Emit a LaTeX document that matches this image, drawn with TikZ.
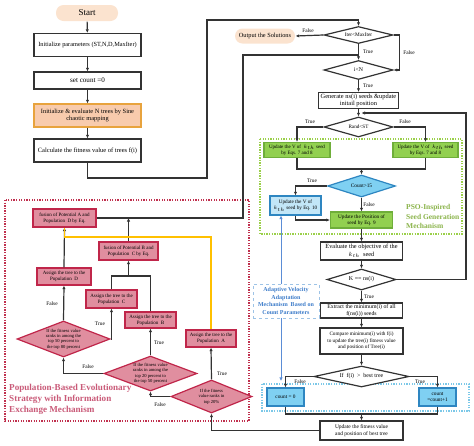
\documentclass[tikz,border=0pt]{standalone}
\usepackage{fontspec}
\setmainfont{Liberation Serif}
\usetikzlibrary{shapes.geometric,arrows.meta}
\definecolor{boxc}{HTML}{333333}
\definecolor{peach}{HTML}{FBE3CF}
\definecolor{orfill}{HTML}{F8CBAD}
\definecolor{orline}{HTML}{E8A33D}
\definecolor{pkfill}{HTML}{E08E9F}
\definecolor{pkline}{HTML}{C0264A}
\definecolor{grfill}{HTML}{92D050}
\definecolor{grline}{HTML}{6FAE3A}
\definecolor{cnfill}{HTML}{7FD0F2}
\definecolor{cnline}{HTML}{2E86C1}
\definecolor{bufill}{HTML}{C2E6F7}
\definecolor{yel}{HTML}{FFC000}
\definecolor{reddot}{HTML}{C0304E}
\definecolor{grdot}{HTML}{9BD04A}
\definecolor{bldot}{HTML}{7CC8E8}
\definecolor{addash}{HTML}{9DC3E6}
\definecolor{adtext}{HTML}{3D7CC9}
\definecolor{bline}{HTML}{5B8DD6}
\definecolor{psotext}{HTML}{8AB34A}
\definecolor{poptext}{HTML}{C95A78}
\newcommand{\fz}[2]{\fontsize{#1pt}{#2pt}\selectfont}
\tikzset{
  sz/.style 2 args={minimum width=#1pt, minimum height=#2pt},
  base/.style={inner sep=0pt, align=center, line width=1.2pt},
  box/.style={base, draw=boxc, fill=white, font=\fz{6.5}{7.6}},
  stad/.style={base, fill=peach, rounded corners=7.5pt},
  orbox/.style={base, draw=orline, fill=orfill, font=\fz{6.4}{7.8}},
  pkbox/.style={base, draw=pkline, fill=pkfill, font=\fz{5.0}{6.0}},
  grbox/.style={base, draw=grline, fill=grfill, font=\fz{5.0}{6.2}},
  cnbox/.style={base, draw=cnline, fill=cnfill, font=\fz{5.3}{6.3}},
  bubox/.style={base, draw=cnline, fill=bufill, font=\fz{5.2}{6.4}},
  dia/.style={diamond, base, draw=boxc, fill=white},
  pkdia/.style={diamond, base, draw=pkline, fill=pkfill},
  cndia/.style={diamond, base, draw=cnline, fill=cnfill},
  dtext/.style={inner sep=0pt, align=center, font=\fz{5.3}{6.2}},
  pktext/.style={inner sep=0pt, align=center, font=\fz{4.6}{5.4}},
  lab/.style={inner sep=0pt, font=\fz{5.4}{6.2}},
  arr/.style={line width=1.2pt, draw=boxc, -{Latex[length=3.6pt,width=3.4pt]}},
  ln/.style={line width=1.2pt, draw=boxc},
  yline/.style={line width=1.2pt, draw=yel},
  bl/.style={line width=1pt, draw=bline, -{Latex[length=3.6pt,width=3.4pt]}},
  dotreg/.style={line width=1.6pt, dash pattern=on 1.3pt off 1.3pt},
}
\begin{document}
\begin{tikzpicture}[x=1pt,y=-1pt]
\useasboundingbox (0,0) rectangle (474,445);

% regions
\draw[dotreg, draw=reddot] (5,200) rectangle (249,421);
\draw[dotreg, draw=grdot] (260,139) rectangle (462,234);
\draw[dotreg, draw=bldot] (262,384) rectangle (469,411);

% left column
\node[stad, sz={62}{16}, font=\fz{9}{10}] (start) at (87,13) {Start};
\node[box, sz={107}{23}, font=\fz{6.3}{7.5}] (init) at (87.5,45) {Initialize parameters (ST,N,D,MaxIter)};
\node[box, sz={107}{17}, font=\fz{7.1}{8}] (setc) at (87.5,80.5) {set count =0};
\node[orbox, sz={107}{23}] (initN) at (87.5,115.5) {Initialize \& evaluate N trees by Sine\\chaotic mapping};
\node[box, sz={107}{23}] (calc) at (87.5,150.5) {Calculate the fitness value of trees f(i)};

% right column
\node[dia, sz={69}{17}] (iter) at (358.5,35) {};
\node[dtext] (itert) at (iter) {Iter<MaxIter};
\node[stad, sz={60}{15}, font=\fz{6.3}{7}] (out) at (265,36) {Output the Solutions};
\node[dia, sz={69}{19}] (in) at (358.5,70) {};
\node[dtext, font=\fz{5.8}{6.5}] (int) at (in) {i<N};
\node[box, sz={80}{16}, font=\fz{6.4}{7.2}] (gen) at (358.5,100.5) {Generate ns(i) seeds \&update\\initail position};
\node[dia, sz={69}{20}] (rand) at (358.5,127) {};
\node[dtext, font=\fz{5.2}{6}] (randt) at (rand) {Rand<ST};
\node[grbox, sz={66}{15}] (gL) at (297,150) {Update the V of \ $k_{th}$ seed\\by Eqs. 7 and 8};
\node[grbox, sz={65}{15}] (gR) at (425.5,150) {Update the V of \ $k_{th}$ seed\\by Eqs. 7 and 8};
\node[cndia, sz={68}{22}] (cnt) at (361.5,186) {};
\node[dtext, font=\fz{5.3}{6}] (cntt) at (cnt) {Count>15};
\node[bubox, sz={51}{19}] (bUp) at (295.5,205.5) {Update the V of\\$k_{th}$ seed by Eq. 10};
\node[grbox, sz={62}{16}, font=\fz{5.2}{6.4}] (pos) at (361.5,220) {Update the Position of\\seed by Eq. 9};
\node[box, sz={82}{18}, font=\fz{6.3}{7.4}] (eval) at (361.5,251) {Evaluate the objective of the\\$k_{th}$ \ seed};
\node[dia, sz={69}{21}] (kd) at (361.5,279.5) {};
\node[dtext, font=\fz{6}{6.5}] (kdt) at (kd) {K == ns(i)};
\node[box, sz={82}{15}, font=\fz{5.8}{6.6}] (ext) at (361.5,310.5) {Extract the minimum(i) of all\\f(ns(i)) seeds};
\node[box, sz={83}{26}, font=\fz{5.2}{6.7}] (cmp) at (361.5,341) {Compare minimum(i) with f(i)\\to update the tree(i) fitness value\\and position of Tree(i)};
\node[dia, sz={95}{21}] (fd) at (361.5,376.5) {};
\node[dtext, font=\fz{5.9}{6.5}] (fdt) at (fd) {If \ f(i) \ > \ best tree};
\node[cnbox, sz={37}{18}] (c0) at (285.5,397) {count = 0};
\node[cnbox, sz={37}{18}] (c1) at (437.5,397) {count\\=count+1};
\node[box, sz={83}{19}, font=\fz{5.5}{6.8}] (upd) at (361.5,430.5) {Update the fitness value\\and position of best tree};

% left population nodes
\node[pkbox, sz={63}{18}] (fA) at (64.5,218) {fusion of Potential A and\\Population \ D by Eq.};
\node[pkbox, sz={59}{18}] (fB) at (128.5,251) {fusion of Potential B and\\Population \ C by Eq.};
\node[pkbox, sz={54}{17}] (aD) at (64,276.5) {Assign the tree to the\\Population \ D};
\node[pkbox, sz={51}{18}] (aC) at (111.5,299) {Assign the tree to the\\Population \ C};
\node[pkbox, sz={51}{16}] (aB) at (150.5,320) {Assign the tree to the\\Population \ B};
\node[pkbox, sz={50}{17}] (aA) at (211,338.5) {Assign the tree to the\\Population \ A};
\node[pkdia, sz={93}{36}] (d1) at (63.5,339) {};
\node[pktext] (d1t) at (d1) {If the fitness value\\ranks in among the\\top 50 percent to\\the top 80 percent};
\node[pkdia, sz={93}{35}] (d2) at (150.5,373.5) {};
\node[pktext] (d2t) at (d2) {If the fitness value\\ranks in among the\\top 20 percent to\\the top 50 percent};
\node[pkdia, sz={81}{33}] (d3) at (211.5,396.5) {};
\node[pktext] (d3t) at (d3) {If the fitness\\value ranks in\\top 20\%};

% region labels
\node[inner sep=0pt, align=left, anchor=north west, text=poptext, font=\bfseries\fz{9.1}{11}] (poplab) at (9,383.5) {Population-Based Evolutionary\\Strategy with Information\\Exchange Mechanism};
\node[inner sep=0pt, align=left, anchor=north west, text=psotext, font=\bfseries\fz{7.5}{9.6}] (psolab) at (406,204) {PSO-Inspired\\Seed Generation\\Mechanism};
\node[draw=addash, dashed, line width=0.6pt, sz={66}{34}, inner sep=0pt, align=center, text=adtext, font=\bfseries\fz{6}{7.4}] (ad) at (286,301) {Adaptive Velocity\\Adaptation\\Mechanism \ Based on\\Count Parameters};

% coordinates
\coordinate (lp1) at (207,178);
\coordinate (lp2) at (207,20);
\coordinate (lk) at (243,218);
\coordinate (jn) at (358.5,55);
\coordinate (fbj) at (128.5,218);
\coordinate (gj) at (361.5,169);
\coordinate (kr) at (466,279.5);
\coordinate (rj) at (361.5,113);
\coordinate (cj) at (361.5,414);
\coordinate (pj) at (128.5,276);
\coordinate (yj) at (211,237);
\coordinate (yk) at (64.5,237);
\coordinate (bt) at (281,215.5);
\coordinate (bm1) at (281,284);
\coordinate (bm2) at (281,318);
\coordinate (bb) at (281,381);

% left column connectors
\draw[arr] (start) -- (init);
\draw[arr] (init) -- (setc);
\draw[arr] (setc) -- (initN);
\draw[arr] (initN) -- (calc);
\draw[arr] (calc.south) |- (lp1) -- (lp2) -| (iter.north);

% right column connectors
\draw[arr] (iter.west) -- (out.east);
\draw[arr] (iter.east) -- ++(6,0) |- (in.east);
\draw[arr] (iter.south) -- (in.north);
\draw[ln] (fA.east) -- (lk) |- (jn);
\draw[arr] (in.south) -- (gen.north);
\draw[arr] (gen.south) -- (rand.north);
\draw[arr] (rand.west) -| (gL.north);
\draw[arr] (rand.east) -| (gR.north);
\draw[ln] (gL.south) |- (gj) -| (gR.south);
\draw[arr] (gj) -- (cnt.north);
\draw[arr] (cnt.west) -| (bUp.north);
\draw[arr] (cnt.south) -- (pos.north);
\draw[arr] (bUp.south) |- (pos.west);
\draw[arr] (pos.south) -- (eval.north);
\draw[arr] (eval.south) -- (kd.north);
\draw[arr] (kd.east) -- (kr) |- (rj);
\draw[arr] (kd.south) -- (ext.north);
\draw[arr] (ext.south) -- (cmp.north);
\draw[arr] (cmp.south) -- (fd.north);
\draw[arr] (fd.west) -| (c0.north);
\draw[arr] (fd.east) -| (c1.north);
\draw[ln] (c0.south) |- (cj) -| (c1.south);
\draw[arr] (cj) -- (upd.north);
\draw[arr] (upd.west) -| (d3.south);

% left population connectors
\draw[arr] (d3.north) -- (aA.south);
\draw[arr] (d3.west) -| (d2.south);
\draw[arr] (d2.north) -- (aB.south);
\draw[arr] (d2.west) -| (d1.south);
\draw[arr] (d1.north) -- (aD.south);
\draw[arr] (d1.east) -| (aC.south);
\draw[ln] (aC.north) |- (pj) -| (aB.north);
\draw[arr] (pj) -- (fB.south);
\draw[arr] (fB.north) -- (fbj);
\draw[arr] (aD.north) -- (fA.south);
\draw[yline] (aA.north) -- (yj) -- (yk) -- (fA.south);

% adaptive blue arrows
\draw[bl] (bm1) -- (bt);
\draw[bl] (bm2) -- (bb);

% branch labels
\node[lab] (l1) at (308,30.5) {False};
\node[lab] (l2) at (409,53) {False};
\node[lab] (l3) at (368,52) {True};
\node[lab] (l4) at (368,86) {True};
\node[lab] (l5) at (310,122) {True};
\node[lab] (l6) at (405,122) {False};
\node[lab] (l7) at (312,181) {True};
\node[lab] (l8) at (369,205) {False};
\node[lab] (l9) at (369,297) {True};
\node[lab] (l10) at (300,382) {False};
\node[lab] (l11) at (420,382) {True};
\node[lab] (l12) at (52,304) {False};
\node[lab] (l13) at (100,324) {True};
\node[lab] (l14) at (88,367) {False};
\node[lab] (l15) at (159,343) {True};
\node[lab] (l16) at (160,405) {False};
\node[lab] (l17) at (222,374) {True};
\end{tikzpicture}
\end{document}
